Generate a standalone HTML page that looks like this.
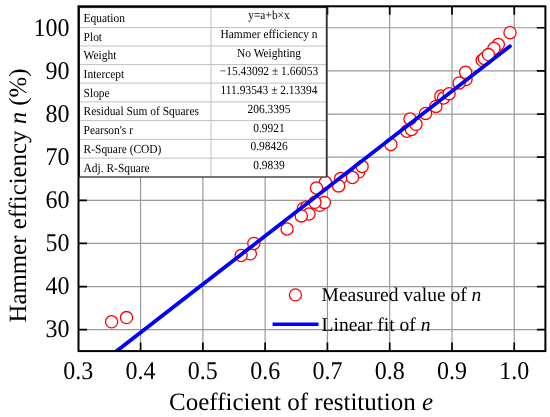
<!DOCTYPE html><html><head><meta charset="utf-8"><style>html,body{margin:0;padding:0;background:#fff;width:550px;height:417px;overflow:hidden}svg{display:block}text{font-family:"Liberation Serif","Times New Roman",serif;fill:#000;text-rendering:geometricPrecision}</style></head><body>
<svg width="550" height="417" viewBox="0 0 550 417">
<rect width="550" height="417" fill="#fff"/>
<path d="M140.58 6.30V351.10M202.86 6.30V351.10M265.14 6.30V351.10M327.42 6.30V351.10M389.70 6.30V351.10M451.98 6.30V351.10M514.26 6.30V351.10M78.50 329.67H545.40M78.50 286.54H545.40M78.50 243.41H545.40M78.50 200.28H545.40M78.50 157.15H545.40M78.50 114.03H545.40M78.50 70.90H545.40M78.50 27.77H545.40" stroke="#999999" stroke-width="1.2" fill="none"/>
<path d="M140.58 351.10v-8.5M140.58 6.30v8.5M202.86 351.10v-8.5M202.86 6.30v8.5M265.14 351.10v-8.5M265.14 6.30v8.5M327.42 351.10v-8.5M327.42 6.30v8.5M389.70 351.10v-8.5M389.70 6.30v8.5M451.98 351.10v-8.5M451.98 6.30v8.5M514.26 351.10v-8.5M514.26 6.30v8.5M78.50 329.67h8.5M545.40 329.67h-8.5M78.50 286.54h8.5M545.40 286.54h-8.5M78.50 243.41h8.5M545.40 243.41h-8.5M78.50 200.28h8.5M545.40 200.28h-8.5M78.50 157.15h8.5M545.40 157.15h-8.5M78.50 114.03h8.5M545.40 114.03h-8.5M78.50 70.90h8.5M545.40 70.90h-8.5M78.50 27.77h8.5M545.40 27.77h-8.5" stroke="#000" stroke-width="1.7" fill="none"/>
<g fill="#fff" stroke="#f00" stroke-width="1.3"><circle cx="111.6" cy="321.8" r="6.1"/><circle cx="126.5" cy="317.6" r="6.1"/><circle cx="250.3" cy="253.8" r="6.1"/><circle cx="241.1" cy="255.5" r="6.1"/><circle cx="253.8" cy="243.4" r="6.1"/><circle cx="287.1" cy="229.0" r="6.1"/><circle cx="303.4" cy="208.4" r="6.1"/><circle cx="306.8" cy="207.0" r="6.1"/><circle cx="309.0" cy="214.0" r="6.1"/><circle cx="301.3" cy="215.9" r="6.1"/><circle cx="319.7" cy="205.3" r="6.1"/><circle cx="324.3" cy="202.4" r="6.1"/><circle cx="314.9" cy="202.3" r="6.1"/><circle cx="325.4" cy="182.3" r="6.1"/><circle cx="316.5" cy="188.0" r="6.1"/><circle cx="340.6" cy="178.5" r="6.1"/><circle cx="338.6" cy="185.9" r="6.1"/><circle cx="358.8" cy="171.8" r="6.1"/><circle cx="352.5" cy="177.5" r="6.1"/><circle cx="362.1" cy="166.5" r="6.1"/><circle cx="390.9" cy="144.5" r="6.1"/><circle cx="406.8" cy="131.2" r="6.1"/><circle cx="411.5" cy="129.5" r="6.1"/><circle cx="416.0" cy="124.3" r="6.1"/><circle cx="410.0" cy="119.0" r="6.1"/><circle cx="425.5" cy="113.4" r="6.1"/><circle cx="435.9" cy="106.4" r="6.1"/><circle cx="440.8" cy="96.0" r="6.1"/><circle cx="443.5" cy="98.0" r="6.1"/><circle cx="449.1" cy="93.7" r="6.1"/><circle cx="466.0" cy="79.5" r="6.1"/><circle cx="459.2" cy="82.9" r="6.1"/><circle cx="465.6" cy="72.3" r="6.1"/><circle cx="510.0" cy="32.7" r="6.1"/><circle cx="482.2" cy="60.3" r="6.1"/><circle cx="484.3" cy="58.5" r="6.1"/><circle cx="498.3" cy="44.5" r="6.1"/><circle cx="493.9" cy="48.5" r="6.1"/><circle cx="488.4" cy="54.6" r="6.1"/></g>
<clipPath id="cp"><rect x="78.5" y="6.3" width="466.9" height="344.8"/></clipPath>
<line x1="113.41" y1="353.56" x2="509.96" y2="46.17" stroke="#0000ff" stroke-width="3.8" stroke-linecap="round" clip-path="url(#cp)"/>
<rect x="78.5" y="6.3" width="248.10000000000002" height="170.6" fill="#fff"/>
<path d="M78.5 27.6H326.6M78.5 46.0H326.6M78.5 64.6H326.6M78.5 83.1H326.6M78.5 101.9H326.6M78.5 120.6H326.6M78.5 139.4H326.6M78.5 158.1H326.6M211 6.3V176.9" stroke="#c0c0c0" stroke-width="1" fill="none"/>
<path d="M326.6 6.3V176.9" stroke="#333" stroke-width="1.6" fill="none"/>
<path d="M327.40000000000003 176.9H78.5" stroke="#4a4a4a" stroke-width="1.5" fill="none"/>
<path d="M78.5 7.6H326.6M79.4 6.3V176.9" stroke="#222" stroke-width="1" fill="none"/>
<text transform="translate(83.6 22.2) scale(1 1.08)" font-size="11.45" fill="#1a1a1a">Equation</text>
<text transform="translate(269 18.8) scale(1 1.08)" font-size="11.45" text-anchor="middle" fill="#1a1a1a">y=a+b×x</text>
<text transform="translate(83.6 40.6) scale(1 1.08)" font-size="11.45" fill="#1a1a1a">Plot</text>
<text transform="translate(269 38.1) scale(1 1.08)" font-size="11.45" text-anchor="middle" fill="#1a1a1a">Hammer efficiency n</text>
<text transform="translate(83.6 59.2) scale(1 1.08)" font-size="11.45" fill="#1a1a1a">Weight</text>
<text transform="translate(269 56.7) scale(1 1.08)" font-size="11.45" text-anchor="middle" fill="#1a1a1a">No Weighting</text>
<text transform="translate(83.6 77.7) scale(1 1.08)" font-size="11.45" fill="#1a1a1a">Intercept</text>
<text transform="translate(269 75.2) scale(1 1.08)" font-size="11.45" text-anchor="middle" fill="#1a1a1a">−15.43092 ± 1.66053</text>
<text transform="translate(83.6 96.5) scale(1 1.08)" font-size="11.45" fill="#1a1a1a">Slope</text>
<text transform="translate(269 94.0) scale(1 1.08)" font-size="11.45" text-anchor="middle" fill="#1a1a1a">111.93543 ± 2.13394</text>
<text transform="translate(83.6 115.2) scale(1 1.08)" font-size="11.45" fill="#1a1a1a">Residual Sum of Squares</text>
<text transform="translate(269 112.7) scale(1 1.08)" font-size="11.45" text-anchor="middle" fill="#1a1a1a">206.3395</text>
<text transform="translate(83.6 134.0) scale(1 1.08)" font-size="11.45" fill="#1a1a1a">Pearson's r</text>
<text transform="translate(269 131.5) scale(1 1.08)" font-size="11.45" text-anchor="middle" fill="#1a1a1a">0.9921</text>
<text transform="translate(83.6 152.7) scale(1 1.08)" font-size="11.45" fill="#1a1a1a">R-Square (COD)</text>
<text transform="translate(269 150.2) scale(1 1.08)" font-size="11.45" text-anchor="middle" fill="#1a1a1a">0.98426</text>
<text transform="translate(83.6 171.5) scale(1 1.08)" font-size="11.45" fill="#1a1a1a">Adj. R-Square</text>
<text transform="translate(269 169.0) scale(1 1.08)" font-size="11.45" text-anchor="middle" fill="#1a1a1a">0.9839</text>
<rect x="78.5" y="6.3" width="466.9" height="344.8" fill="none" stroke="#000" stroke-width="2"/>
<text transform="translate(78.30 379.3) scale(1 1.06)" font-size="24" text-anchor="middle">0.3</text>
<text transform="translate(140.58 379.3) scale(1 1.06)" font-size="24" text-anchor="middle">0.4</text>
<text transform="translate(202.86 379.3) scale(1 1.06)" font-size="24" text-anchor="middle">0.5</text>
<text transform="translate(265.14 379.3) scale(1 1.06)" font-size="24" text-anchor="middle">0.6</text>
<text transform="translate(327.42 379.3) scale(1 1.06)" font-size="24" text-anchor="middle">0.7</text>
<text transform="translate(389.70 379.3) scale(1 1.06)" font-size="24" text-anchor="middle">0.8</text>
<text transform="translate(451.98 379.3) scale(1 1.06)" font-size="24" text-anchor="middle">0.9</text>
<text transform="translate(514.26 379.3) scale(1 1.06)" font-size="24" text-anchor="middle">1.0</text>
<text transform="translate(69.6 337.47) scale(1 1.06)" font-size="24" text-anchor="end">30</text>
<text transform="translate(69.6 294.34) scale(1 1.06)" font-size="24" text-anchor="end">40</text>
<text transform="translate(69.6 251.21) scale(1 1.06)" font-size="24" text-anchor="end">50</text>
<text transform="translate(69.6 208.08) scale(1 1.06)" font-size="24" text-anchor="end">60</text>
<text transform="translate(69.6 164.95) scale(1 1.06)" font-size="24" text-anchor="end">70</text>
<text transform="translate(69.6 121.83) scale(1 1.06)" font-size="24" text-anchor="end">80</text>
<text transform="translate(69.6 78.70) scale(1 1.06)" font-size="24" text-anchor="end">90</text>
<text transform="translate(69.6 35.57) scale(1 1.06)" font-size="24" text-anchor="end">100</text>
<text x="169" y="409.5" font-size="25">Coefficient of restitution <tspan font-style="italic">e</tspan></text>
<text transform="translate(25.6 322.5) rotate(-90)" font-size="24.85">Hammer efficiency <tspan font-style="italic">n</tspan> (%)</text>
<circle cx="295.4" cy="294.9" r="6" fill="none" stroke="#f00" stroke-width="1.3"/>
<line x1="272.6" y1="324.2" x2="318.5" y2="324.2" stroke="#0000ff" stroke-width="3.5"/>
<text x="321.6" y="301.3" font-size="19.5">Measured value of <tspan font-style="italic">n</tspan></text>
<text x="321.6" y="330.8" font-size="19.5">Linear fit of <tspan font-style="italic">n</tspan></text>
</svg></body></html>
